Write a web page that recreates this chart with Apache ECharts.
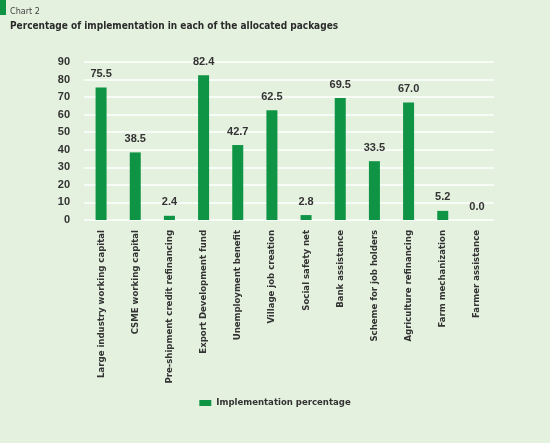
<!DOCTYPE html>
<html>
<head>
<meta charset="utf-8">
<script src="https://cdn.jsdelivr.net/npm/echarts@6/dist/echarts.min.js"></script>
<style>
  html, body { margin: 0; padding: 0; background: #e4f1df; }
  #main { width: 550px; height: 443px; }
</style>
</head>
<body>
<div id="main"></div>
<script>
// 数据
const categories = [
  'Large industry working capital',
  'CSME working capital',
  'Pre-shipment credit refinancing',
  'Export Development fund',
  'Unemployment benefit',
  'Village job creation',
  'Social safety net',
  'Bank assistance',
  'Scheme for job holders',
  'Agriculture refinancing',
  'Farm mechanization',
  'Farmer assistance'
]
const implementation = [75.5, 38.5, 2.4, 82.4, 42.7, 62.5, 2.8, 69.5, 33.5, 67.0, 5.2, 0.0]
const seriesName = 'Implementation percentage'

const COND = '"DejaVu Sans Condensed", "Liberation Sans"'
const NUM = 'Liberation Sans'
const TXT = '#333333'

const chartDom = document.getElementById('main')
const myChart = echarts.init(chartDom)

const option = {
  backgroundColor: '#e4f1df',
  animation: false,
  textStyle: { fontFamily: COND },
  title: [
    {
      text: 'Chart 2',
      left: 5, top: 2,
      textStyle: { fontSize: 9, fontWeight: 'normal', color: '#444', fontFamily: COND }
    },
    {
      text: 'Percentage of implementation in each of the allocated packages',
      left: 5, top: 16,
      textStyle: { fontSize: 10, fontWeight: 'bold', color: '#2a2a2a', fontFamily: COND }
    }
  ],
  graphic: [
    { type: 'rect', left: 0, top: 0, shape: { width: 6, height: 15 }, style: { fill: '#0e9444' } }
  ],
  legend: {
    bottom: 30,
    left: 'center',
    itemWidth: 12,
    itemHeight: 6,
    icon: 'rect',
    textStyle: { fontSize: 9.5, fontWeight: 'bold', color: TXT, fontFamily: COND },
    data: [seriesName]
  },
  grid: { left: 84, right: 56, top: 62, bottom: 223 },
  xAxis: {
    type: 'category',
    data: categories,
    axisLine: { show: false },
    axisTick: { show: false },
    axisLabel: {
      rotate: 90,
      interval: 0,
      margin: 10,
      fontSize: 9.5,
      fontWeight: 'bold',
      color: TXT,
      fontFamily: COND
    }
  },
  yAxis: {
    type: 'value',
    min: 0, max: 90, interval: 10,
    axisLine: { show: false },
    axisTick: { show: false },
    splitLine: { lineStyle: { color: '#ffffff', width: 1.5 } },
    axisLabel: { margin: 14, fontSize: 11, fontWeight: 'bold', color: TXT, fontFamily: NUM }
  },
  series: [
    {
      name: seriesName,
      type: 'bar',
      data: implementation,
      barWidth: 11,
      itemStyle: { color: '#0e9444' },
      label: {
        show: true,
        position: 'top',
        distance: 8,
        formatter: p => p.value.toFixed(1),
        fontSize: 11,
        fontWeight: 'bold',
        color: TXT,
        fontFamily: NUM
      }
    }
  ]
}

option && myChart.setOption(option)
</script>
</body>
</html>
